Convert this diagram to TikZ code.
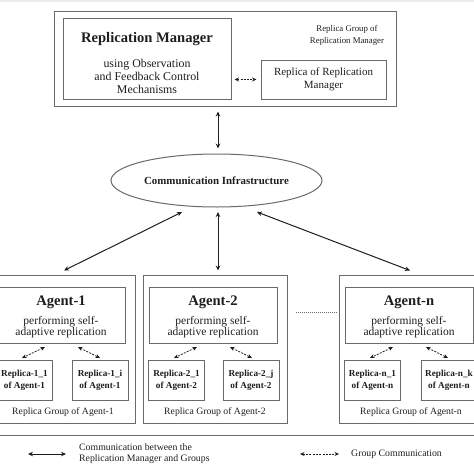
\documentclass[tikz,border=0pt]{standalone}
\usepackage{fontspec}
\setmainfont{Liberation Serif}
\usetikzlibrary{shapes.geometric,arrows.meta,calc}
\definecolor{linegray}{HTML}{6A6A6A}
\definecolor{txt}{HTML}{1E1E1E}
\tikzset{
  box/.style={draw=linegray, line width=1pt, inner sep=0pt, text=txt, align=center},
  txtnode/.style={inner sep=0pt, text=txt, align=center},
  solidarrow/.style={draw=txt, line width=1pt, {Stealth[length=5pt,width=4.5pt]}-{Stealth[length=5pt,width=4.5pt]}},
  grouparrow/.style={draw=txt, line width=0.8pt, dash pattern=on 2pt off 1.3pt, {Stealth[length=4.5pt,width=4pt]}-{Stealth[length=4.5pt,width=4pt]}},
  titlefont/.style={font=\fontsize{14.6}{16}\selectfont\bfseries},
  subfont/.style={font=\fontsize{11.9}{13}\selectfont},
  agsubfont/.style={font=\fontsize{11.5}{11.2}\selectfont},
  repfont/.style={font=\fontsize{9.2}{12}\selectfont\bfseries},
  smallfont/.style={font=\fontsize{8.8}{12}\selectfont},
  grpfont/.style={font=\fontsize{9.7}{11}\selectfont},
}
\begin{document}
\begin{tikzpicture}[x=1pt,y=-1pt]
\useasboundingbox (0,0) rectangle (474,474);
\fill[black!8] (0,0) rectangle (474,2);
% Replication manager group
\node[box, minimum width=342, minimum height=95] (rmgroup) at (225,58.5) {};
\node[box, minimum width=168, minimum height=81] (rm) at (147,58.5) {};
\node[txtnode, titlefont] (rmtitle) at (147,39) {Replication Manager};
\node[txtnode, subfont] (rmsub) at (147,76) {using Observation\\and Feedback Control\\Mechanisms};
\node[txtnode, smallfont] (rmgrplabel) at (347,35) {Replica Group of\\Replication Manager};
\node[box, minimum width=125, minimum height=39, font=\fontsize{11}{13}\selectfont] (rmrep) at (323.5,79.5) {Replica of Replication\\Manager};
\draw[grouparrow] (rm.east |- rmrep.west) ++(3,0) coordinate (rmdA) -- ($(rmrep.west)+(-4,0)$) coordinate (rmdB);
% Communication infrastructure
\node[draw=linegray, line width=1pt, ellipse, minimum width=211, minimum height=53, inner sep=0pt, text=txt, font=\fontsize{10.9}{12}\selectfont\bfseries] (ell) at (216.5,180.5) {Communication Infrastructure};
% Agent groups
\foreach \n/\cx/\lab/\ra/\rb/\rbx/\rbw in {1/63/1/1\_1/1\_i/100/56, 2/215/2/2\_1/2\_j/251/56, n/411/n/n\_1/n\_k/449/56}{
  \node[box, minimum width=144, minimum height=148] (g\n) at (\cx,349) {};
  \node[box, minimum width=128, minimum height=56] (a\n) at (\cx-2,315) {};
  \node[txtnode, titlefont] (at\n) at (\cx-2,302) {Agent-\lab};
  \node[txtnode, agsubfont] (as\n) at (\cx-2,327.5) {performing self-\\adaptive replication};
  \node[box, repfont, minimum width=56, minimum height=40] (ra\n) at (\cx-38.5,380) {Replica-\ra\\of Agent-\lab};
  \node[box, repfont, minimum width=\rbw, minimum height=40] (rb\n) at (\rbx,380) {Replica-\rb\\of Agent-\lab};
  \node[txtnode, grpfont] (gl\n) at (\cx,412) {Replica Group of Agent-\lab};
  \coordinate (da\n) at (\cx-18,347);
  \coordinate (db\n) at (\cx-41,358);
  \coordinate (dc\n) at (\cx+15,347);
  \coordinate (dd\n) at (\cx+37,358);
  \draw[grouparrow] (da\n) -- (db\n);
  \draw[grouparrow] (dc\n) -- (dd\n);
}
\draw[draw=linegray, line width=0.7pt, dash pattern=on 1pt off 1pt] (g2.east |- 0,312) ++(8,0) coordinate (dotA) -- ($(gn.west |- 0,312)+(-2,0)$) coordinate (dotB);
% communication arrows
\draw[solidarrow] ($(rmgroup.south)+(-7,5)$) coordinate (tA) -- ($(ell.north)+(1.5,-5)$) coordinate (tB);
\coordinate (e1) at (182,212);
\coordinate (e2) at (218,212);
\coordinate (e3) at (257,212);
\draw[solidarrow] (e1) -- ($(g1.north)+(1,-4)$);
\draw[solidarrow] (e2) -- ($(g2.north)+(3,-4)$);
\draw[solidarrow] (e3) -- ($(gn.north)+(-1,-4)$);
% bottom line
\draw[draw=linegray, line width=1pt] (0,435) coordinate (bl) -- (474,435) coordinate (br);
% legend
\coordinate (l1a) at (28,454);
\coordinate (l1b) at (66,454);
\draw[solidarrow] (l1a) -- (l1b);
\node[txtnode, font=\fontsize{9.8}{11}\selectfont, anchor=west, align=left] (leg1) at (79,453.5) {Communication between the\\Replication Manager and Groups};
\coordinate (l2a) at (300,454);
\coordinate (l2b) at (339,454);
\draw[grouparrow] (l2a) -- (l2b);
\node[txtnode, font=\fontsize{9.8}{12}\selectfont, anchor=west] (leg2) at (351,454) {Group Communication};
\end{tikzpicture}
\end{document}
